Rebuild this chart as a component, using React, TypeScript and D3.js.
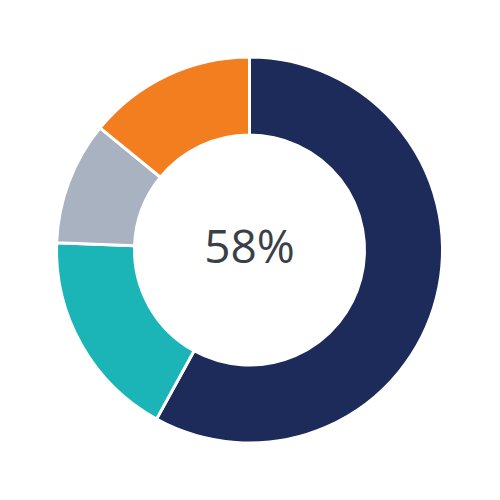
import React from "react";
import * as d3 from "d3";

const categories = ["A", "B", "C", "D"];
const values = [58, 17.6, 10.3, 14.1];
const colors = ["#1c2b5a", "#1bb4b7", "#a8b2c1", "#f37e20"];
const centerLabel = "58%";

export default function App() {
  const width = 500;
  const height = 500;
  const cx = 249.5;
  const cy = 250;
  const outerR = 193;
  const innerR = 115;
  const pie = d3.pie<number>().sort(null).value((d) => d);
  const arcs = pie(values);
  const arc = d3.arc<d3.PieArcDatum<number>>().innerRadius(innerR).outerRadius(outerR);
  return (
    <svg
      width={width}
      height={height}
      style={{ position: "absolute", left: 0, top: 0, background: "#fff" }}
    >
      <g transform={`translate(${cx},${cy})`}>
        {arcs.map((a, i) => (
          <path
            key={categories[i]}
            d={arc(a) || ""}
            fill={colors[i]}
            stroke="#fff"
            strokeWidth={3}
            strokeLinejoin="round"
          />
        ))}
        <text
          x={0}
          y={12.5}
          textAnchor="middle"
          fontFamily="'Open Sans', sans-serif"
          fontSize={46}
          fill="#3b3f48"
        >
          {centerLabel}
        </text>
      </g>
    </svg>
  );
}
